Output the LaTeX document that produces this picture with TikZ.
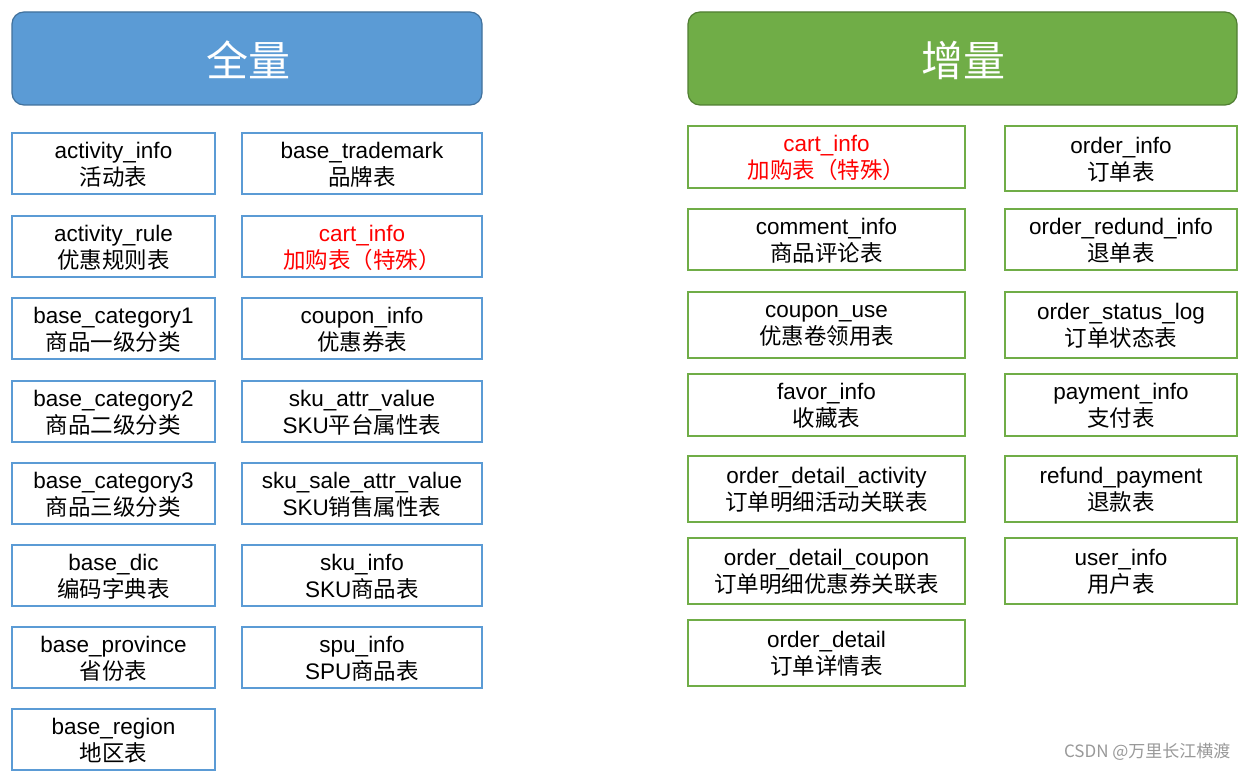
\documentclass[tikz,border=0pt]{standalone}
\usepackage{fontspec}
\setmainfont{Liberation Sans}
\newfontfamily\cjk{Noto Sans CJK SC}
\definecolor{bl}{HTML}{5B9BD5}
\definecolor{bld}{HTML}{41719C}
\definecolor{gr}{HTML}{70AD47}
\definecolor{grd}{HTML}{507E32}
\begin{document}
\begin{tikzpicture}[x=1pt,y=-1pt,
  tbl/.style={draw=#1,line width=2pt},
  lbl/.style={align=center,font=\fontsize{22.5}{27}\selectfont,inner sep=0},
  hdr/.style={draw=#1,line width=1.2pt,rounded corners=12pt}]
\useasboundingbox[fill=white] (0,0) rectangle (1247,773);
\draw[hdr=bld,fill=bl] (12,12) rectangle (482,105);
\node[text=white,font=\cjk\fontsize{42}{44}\selectfont] (hq) at (248,60) {全量};
\draw[hdr=grd,fill=gr] (688,12) rectangle (1237,105);
\node[text=white,font=\cjk\fontsize{42}{44}\selectfont] (hz) at (963,60) {增量};
% left col 1
\foreach \y/\n/\c [count=\i] in {133/activity\_info/活动表,216/activity\_rule/优惠规则表,298/base\_category1/商品一级分类,381/base\_category2/商品二级分类,463/base\_category3/商品三级分类,545/base\_dic/编码字典表,627/base\_province/省份表,709/base\_region/地区表}{
  \draw[tbl=bl] (12,\y) rectangle (215,\y+61);
  \node[lbl] (l1-\i) at (113.5,\y+32) {\n\\{\cjk\c}};
}
\foreach \y/\n/\c/\k [count=\i] in {133/base\_trademark/{\cjk 品牌表}/black,216/cart\_info/{\cjk 加购表（特殊）}/red,298/coupon\_info/{\cjk 优惠券表}/black,381/sku\_attr\_value/SKU{\cjk 平台属性表}/black,463/sku\_sale\_attr\_value/SKU{\cjk 销售属性表}/black,545/sku\_info/SKU{\cjk 商品表}/black,627/spu\_info/SPU{\cjk 商品表}/black}{
  \draw[tbl=bl] (242,\y) rectangle (482,\y+61);
  \node[lbl,text=\k] (l2-\i) at (362,\y+32) {\n\\\c};
}
\foreach \y/\h/\n/\c/\k [count=\i] in {126/62/cart\_info/加购表（特殊）/red,209/61/comment\_info/商品评论表/black,292/66/coupon\_use/优惠卷领用表/black,374/62/favor\_info/收藏表/black,456/66/order\_detail\_activity/订单明细活动关联表/black,538/66/order\_detail\_coupon/订单明细优惠券关联表/black,620/66/order\_detail/订单详情表/black}{
  \draw[tbl=gr] (688,\y) rectangle (965,\y+\h);
  \node[lbl,text=\k] (r1-\i) at (826.5,\y+\h/2+1) {\n\\{\cjk\c}};
}
\foreach \y/\h/\n/\c [count=\i] in {126/65/order\_info/订单表,209/61/order\_redund\_info/退单表,292/66/order\_status\_log/订单状态表,374/62/payment\_info/支付表,456/66/refund\_payment/退款表,538/66/user\_info/用户表}{
  \draw[tbl=gr] (1005,\y) rectangle (1237,\y+\h);
  \node[lbl] (r2-\i) at (1121,\y+\h/2+1) {\n\\{\cjk\c}};
}
\node[text=gray!80,font=\cjk\fontsize{17}{18}\selectfont,anchor=east] (wm) at (1234,752) {CSDN @万里长江横渡};
\end{tikzpicture}
\end{document}
